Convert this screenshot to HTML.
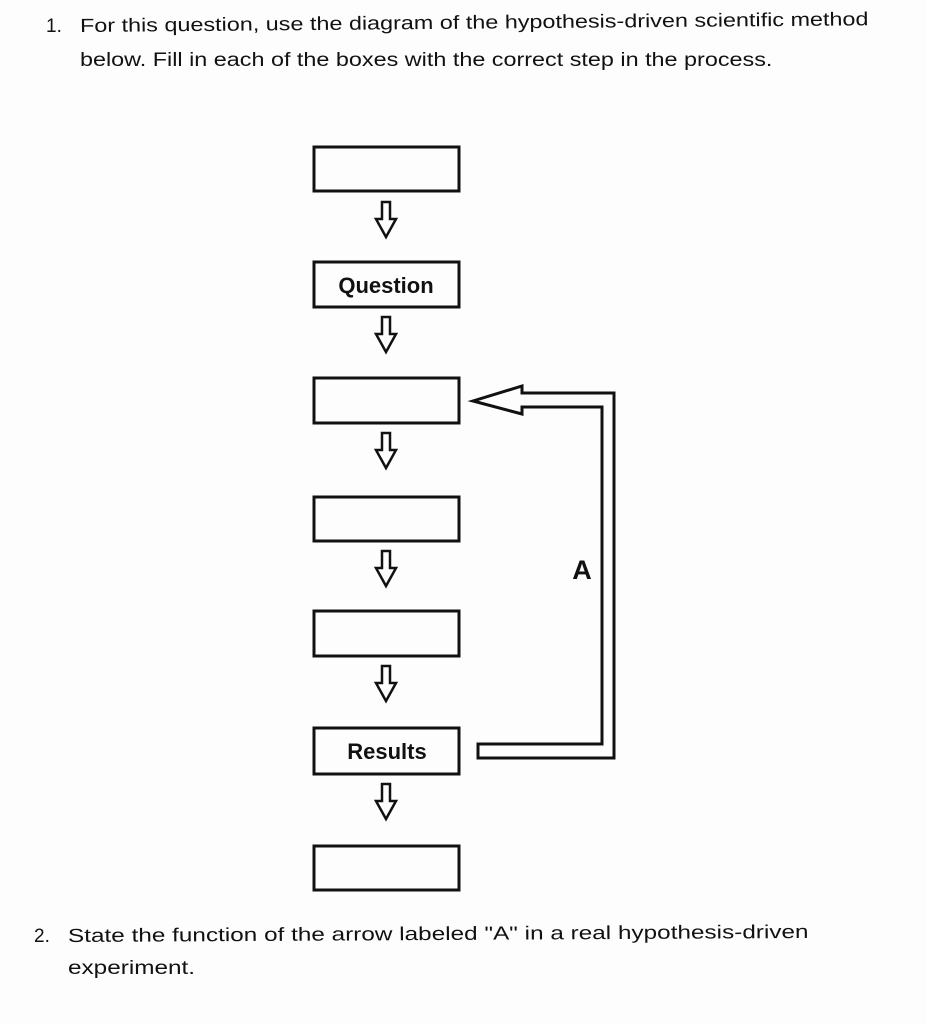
<!DOCTYPE html>
<html><head><style>
body{margin:0;width:927px;height:1024px;background:#fdfdfd;position:relative;overflow:hidden;font-family:"Liberation Sans",sans-serif;color:#111}
.t{position:absolute;font-size:19px;white-space:nowrap;transform-origin:left center}
</style></head><body>
<div class="t" style="left:46px;top:16px">1.</div>
<div class="t" style="left:80px;top:16px;transform:scaleX(1.23) rotate(-0.6deg)">For this question, use the diagram of the hypothesis-driven scientific method</div>
<div class="t" style="left:80px;top:50px;transform:scaleX(1.23)">below. Fill in each of the boxes with the correct step in the process.</div>
<div class="t" style="left:34px;top:926px">2.</div>
<div class="t" style="left:68px;top:926px;transform:scaleX(1.28) rotate(-0.4deg)">State the function of the arrow labeled "A" in a real hypothesis-driven</div>
<div class="t" style="left:68px;top:958px;transform:scaleX(1.28)">experiment.</div>
<svg width="927" height="1024" style="position:absolute;left:0;top:0">
<g fill="none" stroke="#111" stroke-width="3">
<rect x="314" y="147" width="145" height="44"/>
<rect x="314" y="262" width="145" height="45"/>
<rect x="314" y="378" width="145" height="45"/>
<rect x="314" y="497" width="145" height="44"/>
<rect x="314" y="611" width="145" height="45"/>
<rect x="314" y="728" width="145" height="46"/>
<rect x="314" y="846" width="145" height="44"/>
<path d="M478 744 L602 744 L602 407 L522 407 L522 414 L473 401 L522 386 L522 393 L614 393 L614 758 L478 758 Z" stroke-width="3"/>
</g>
<g fill="none" stroke="#111" stroke-width="2.5" stroke-linejoin="miter">
<path id="da" d="M382 202 L390 202 L390 219 L396 219 L386 237 L376 219 L382 219 Z"/>
<use href="#da" y="115"/>
<use href="#da" y="231"/>
<use href="#da" y="349"/>
<use href="#da" y="464"/>
<use href="#da" y="582"/>
</g>
<text x="386" y="293" font-family="Liberation Sans" font-weight="bold" font-size="22" text-anchor="middle" fill="#111">Question</text>
<text x="387" y="759" font-family="Liberation Sans" font-weight="bold" font-size="22" text-anchor="middle" fill="#111">Results</text>
<text x="582" y="579" font-family="Liberation Sans" font-weight="bold" font-size="27" text-anchor="middle" fill="#111">A</text>
</svg>
</body></html>
